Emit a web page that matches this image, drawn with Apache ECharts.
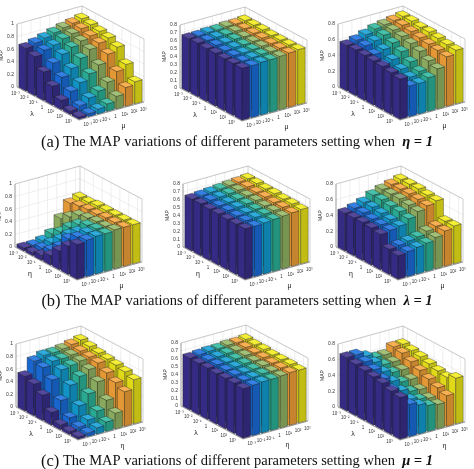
<!DOCTYPE html>
<html>
<head>
<meta charset="utf-8" />
<script src="https://cdn.jsdelivr.net/npm/echarts@6/dist/echarts.min.js"></script>
<style>html,body{margin:0;padding:0;background:#fff}</style>
</head>
<body>
<div id="main" style="width:474px;height:469px;"></div>
<script>
var tickLabels = ['10⁻³', '10⁻²', '10⁻¹', '1', '10¹', '10²', '10³'];
var colColors = ['#3b2f8f', '#1a6fe0', '#12a0d6', '#2db89e', '#95b966', '#f8a53a', '#f2ec1a'];

// rows = first parameter (back 10^-3 -> front 10^3), cols = second parameter
var mapA1 = [
  [.68, .72, .76, .80, .84, .87, .90],
  [.62, .68, .72, .78, .82, .86, .88],
  [.45, .55, .65, .72, .78, .82, .85],
  [.30, .40, .50, .62, .72, .78, .82],
  [.15, .25, .35, .45, .55, .68, .75],
  [.06, .10, .18, .25, .35, .48, .55],
  [.04, .05, .08, .12, .20, .30, .35]
];
var mapA2 = [
  [.68, .68, .69, .69, .70, .70, .71],
  [.68, .68, .69, .69, .70, .70, .71],
  [.67, .68, .68, .69, .69, .70, .71],
  [.67, .67, .68, .68, .69, .70, .70],
  [.66, .67, .67, .68, .69, .69, .70],
  [.66, .66, .67, .68, .68, .69, .70],
  [.66, .66, .67, .67, .68, .69, .70]
];
var mapA3 = [
  [.58, .61, .65, .69, .71, .73, .75],
  [.58, .60, .63, .67, .70, .73, .75],
  [.57, .55, .58, .63, .68, .71, .73],
  [.56, .48, .51, .58, .65, .69, .73],
  [.55, .43, .45, .51, .61, .67, .71],
  [.53, .41, .41, .45, .55, .65, .69],
  [.51, .39, .39, .43, .51, .63, .68]
];
var mapB1 = [
  [.05, .05, .08, .15, .35, .55, .60],
  [.05, .08, .12, .25, .45, .58, .60],
  [.08, .12, .25, .40, .55, .60, .62],
  [.15, .25, .40, .52, .58, .60, .62],
  [.30, .45, .52, .58, .60, .62, .62],
  [.45, .55, .58, .60, .60, .62, .62],
  [.55, .58, .60, .60, .62, .62, .62]
];
var mapB2 = [
  [.66, .67, .68, .69, .70, .71, .72],
  [.66, .67, .68, .69, .70, .71, .72],
  [.65, .66, .67, .68, .69, .70, .71],
  [.65, .66, .67, .68, .69, .70, .71],
  [.64, .65, .66, .67, .68, .69, .70],
  [.64, .65, .66, .67, .68, .69, .70],
  [.64, .64, .65, .66, .67, .68, .69]
];
var mapB3 = [
  [.48, .51, .55, .61, .65, .68, .71],
  [.48, .51, .55, .61, .65, .68, .71],
  [.48, .49, .53, .59, .65, .68, .71],
  [.47, .48, .51, .58, .63, .67, .69],
  [.45, .47, .49, .55, .61, .65, .68],
  [.32, .34, .36, .38, .42, .45, .48],
  [.30, .32, .34, .36, .40, .45, .48]
];
var mapC1 = [
  [.55, .75, .80, .80, .82, .85, .88],
  [.50, .72, .78, .78, .80, .82, .85],
  [.40, .60, .72, .75, .78, .80, .82],
  [.20, .35, .55, .65, .72, .78, .80],
  [.08, .15, .30, .45, .60, .70, .78],
  [.05, .08, .15, .25, .38, .62, .75],
  [.04, .06, .10, .15, .25, .55, .70]
];
var mapC2 = [
  [.66, .67, .68, .68, .69, .69, .70],
  [.65, .66, .67, .68, .68, .69, .69],
  [.65, .66, .66, .67, .68, .68, .69],
  [.64, .65, .66, .67, .67, .68, .68],
  [.64, .65, .65, .66, .67, .67, .68],
  [.64, .64, .65, .66, .66, .67, .68],
  [.63, .64, .65, .65, .66, .67, .67]
];
var mapC3 = [
  [.68, .68, .63, .58, .58, .65, .65],
  [.65, .65, .61, .55, .55, .63, .63],
  [.63, .61, .55, .51, .51, .58, .61],
  [.61, .55, .49, .45, .45, .53, .58],
  [.59, .48, .43, .39, .38, .48, .55],
  [.55, .43, .38, .35, .33, .43, .53],
  [.53, .41, .37, .33, .31, .39, .58]
];

var panels = [
  {m: mapA1, ox: 79, oy: 120, zmax: 1, step: 0.2, row: 'λ', col: 'μ'},
  {m: mapA2, ox: 242, oy: 121, zmax: 0.8, step: 0.1, row: 'λ', col: 'μ'},
  {m: mapA3, ox: 400, oy: 120, zmax: 0.8, step: 0.2, row: 'λ', col: 'μ'},
  {m: mapB1, ox: 77, oy: 280, zmax: 1, step: 0.2, row: 'η', col: 'μ'},
  {m: mapB2, ox: 245, oy: 280, zmax: 0.8, step: 0.1, row: 'η', col: 'μ'},
  {m: mapB3, ox: 398, oy: 280, zmax: 0.8, step: 0.2, row: 'η', col: 'μ'},
  {m: mapC1, ox: 78, oy: 440, zmax: 1, step: 0.2, row: 'λ', col: 'η'},
  {m: mapC2, ox: 243, oy: 439, zmax: 0.8, step: 0.1, row: 'λ', col: 'η'},
  {m: mapC3, ox: 400, oy: 440, zmax: 0.8, step: 0.2, row: 'λ', col: 'η'}
];

var R = [-62, -33];   // front -> back-left along rows
var C = [65, -18];    // front -> back-right along cols
var H = 63;           // box height

function shade(hex, k) {
  var n = parseInt(hex.slice(1), 16);
  var r = n >> 16, g = (n >> 8) & 255, b = n & 255;
  function f(c) { return Math.round(k > 1 ? c + (255 - c) * (k - 1) : c * k); }
  return 'rgb(' + f(r) + ',' + f(g) + ',' + f(b) + ')';
}

function projector(p, api) {
  return function (u, w, z) {
    return api.coord([
      p.ox + u / 7 * R[0] + w / 7 * C[0],
      p.oy + u / 7 * R[1] + w / 7 * C[1] - z / p.zmax * H
    ]);
  };
}

function frameRender(p) {
  return function (params, api) {
    var P = projector(p, api);
    var ch = [];
    var gl = {stroke: '#dedede', lineWidth: 0.5};
    function line(a, b, st) { ch.push({type: 'line', shape: {x1: a[0], y1: a[1], x2: b[0], y2: b[1]}, style: st}); }
    var nz = Math.round(p.zmax / p.step);
    for (var k = 0; k <= nz; k++) {
      var z = k * p.step;
      line(P(7, 0, z), P(7, 7, z), gl);
      line(P(7, 7, z), P(0, 7, z), gl);
      var t = P(7, 0, z);
      ch.push({type: 'text', style: {text: k === 0 ? '0' : (+z.toFixed(1)).toString(), x: t[0] - 3, y: t[1],
        align: 'right', verticalAlign: 'middle', fontSize: 5, fill: '#333', fontFamily: 'Arial'}});
    }
    for (var s = 0; s < 7; s++) {
      line(P(7, s + 0.5, 0), P(7, s + 0.5, p.zmax), gl);
      line(P(s + 0.5, 7, 0), P(s + 0.5, 7, p.zmax), gl);
      line(P(s + 0.5, 0, 0), P(s + 0.5, 7, 0), gl);
      line(P(0, s + 0.5, 0), P(7, s + 0.5, 0), gl);
      var a = P(6.5 - s, 0, 0);
      ch.push({type: 'text', style: {text: tickLabels[s], x: a[0] - 6, y: a[1] + 4, align: 'center',
        verticalAlign: 'middle', fontSize: 4.5, fill: '#333', fontFamily: 'Arial'}});
      var b = P(0, s + 0.5, 0);
      ch.push({type: 'text', style: {text: tickLabels[s], x: b[0] + 4, y: b[1] + 6, align: 'center',
        verticalAlign: 'middle', fontSize: 4.5, fill: '#333', fontFamily: 'Arial'}});
    }
    var bx = {stroke: '#b0b0b0', lineWidth: 0.6};
    line(P(7, 0, 0), P(7, 0, p.zmax), {stroke: '#555', lineWidth: 0.6});
    line(P(7, 7, 0), P(7, 7, p.zmax), bx);
    line(P(0, 7, 0), P(0, 7, p.zmax), bx);
    line(P(7, 0, p.zmax), P(7, 7, p.zmax), bx);
    line(P(7, 7, p.zmax), P(0, 7, p.zmax), bx);
    line(P(7, 0, 0), P(0, 0, 0), {stroke: '#555', lineWidth: 0.6});
    line(P(0, 0, 0), P(0, 7, 0), {stroke: '#555', lineWidth: 0.6});
    var ra = P(3.5, 0, 0), ca = P(0, 3.5, 0), za = P(7, 0, p.zmax / 2);
    ch.push({type: 'text', style: {text: p.row, x: ra[0] - 16, y: ra[1] + 11, align: 'center',
      verticalAlign: 'middle', fontSize: 7, fill: '#222', fontFamily: 'Arial'}});
    ch.push({type: 'text', style: {text: p.col, x: ca[0] + 12, y: ca[1] + 15, align: 'center',
      verticalAlign: 'middle', fontSize: 7, fill: '#222', fontFamily: 'Arial'}});
    ch.push({type: 'text', x: za[0] - 15, y: za[1], rotation: Math.PI / 2,
      style: {text: 'MAP', x: 0, y: 0, align: 'center', verticalAlign: 'middle', fontSize: 5, fill: '#333', fontFamily: 'Arial'}});
    return {type: 'group', children: ch};
  };
}

function barRender(p) {
  return function (params, api) {
    var P = projector(p, api);
    var i = api.value(0), j = api.value(1), v = api.value(2);
    var g = 0.1, u0 = 6 - i + g, u1 = 7 - i - g, w0 = j + g, w1 = j + 1 - g;
    var col = colColors[j];
    function poly(pts, fill) {
      return {type: 'polygon', shape: {points: pts}, style: {fill: fill, stroke: '#1a1a1a', lineWidth: 0.35}};
    }
    return {type: 'group', children: [
      poly([P(u0, w0, 0), P(u1, w0, 0), P(u1, w0, v), P(u0, w0, v)], shade(col, 0.92)),
      poly([P(u0, w0, 0), P(u0, w1, 0), P(u0, w1, v), P(u0, w0, v)], shade(col, 0.8)),
      poly([P(u0, w0, v), P(u1, w0, v), P(u1, w1, v), P(u0, w1, v)], shade(col, 1.12))
    ]};
  };
}

var series = [];
panels.forEach(function (p) {
  series.push({type: 'custom', coordinateSystem: 'cartesian2d', silent: true, data: [[0, 0]], renderItem: frameRender(p)});
  var d = [];
  for (var i = 0; i < 7; i++) for (var j = 6; j >= 0; j--) d.push([i, j, p.m[i][j]]);
  series.push({type: 'custom', coordinateSystem: 'cartesian2d', silent: true, data: d, renderItem: barRender(p)});
});

var captions = [
  ['a', 'η', 143], ['b', 'λ', 302], ['c', 'μ', 462]
];
var graphic = captions.map(function (c) {
  return {type: 'text', left: 'center', top: c[2] - 9, style: {
    text: '{p|(' + c[0] + ')} The MAP variations of different parameters setting when  {g|' + c[1] + ' = 1}',
    fontFamily: 'Liberation Serif', fontSize: 14.5, fill: '#111',
    rich: {p: {fontSize: 16.5, fontFamily: 'Liberation Serif'}, g: {fontSize: 14.5, fontWeight: 'bold', fontStyle: 'italic', fontFamily: 'Liberation Serif'}}
  }};
});

var chart = echarts.init(document.getElementById('main'));
chart.setOption({
  animation: false,
  grid: {left: 0, right: 0, top: 0, bottom: 0},
  xAxis: {type: 'value', min: 0, max: 474, show: false},
  yAxis: {type: 'value', min: 0, max: 469, inverse: true, show: false},
  graphic: graphic,
  series: series
});
</script>
</body>
</html>
